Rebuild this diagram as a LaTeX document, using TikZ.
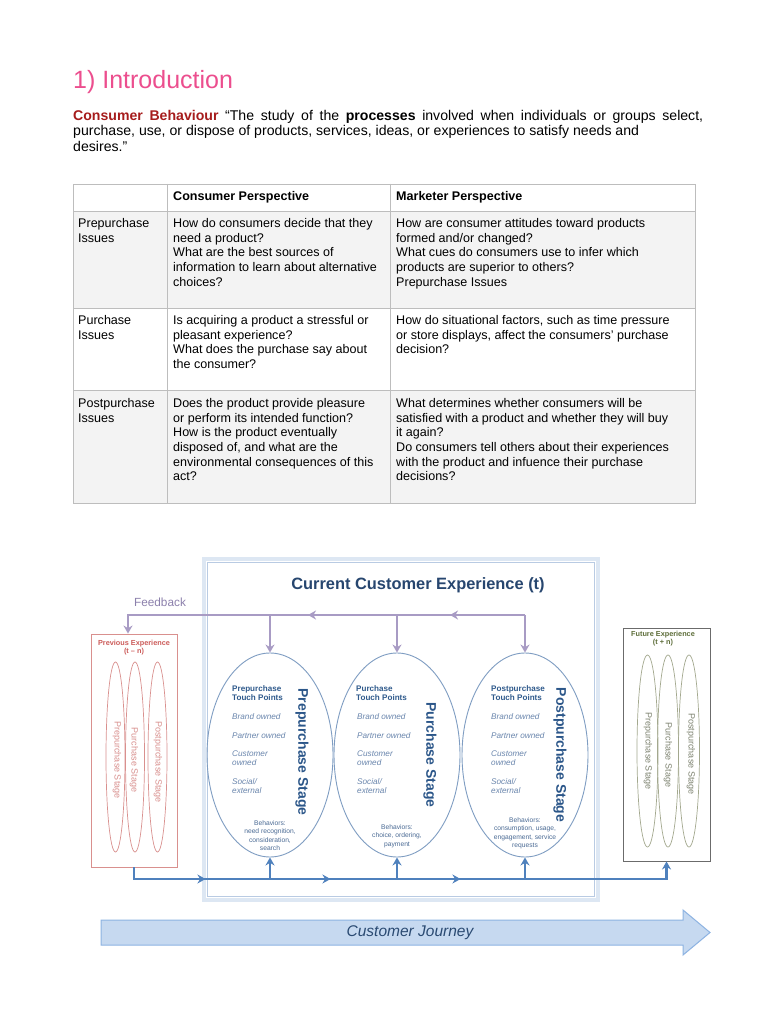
\documentclass[tikz,border=0pt]{standalone}
\usepackage{fontspec}
\setmainfont{Liberation Sans}
\usetikzlibrary{shapes.geometric,arrows.meta,decorations.markings}

\definecolor{titlepink}{HTML}{EC4E8E}
\definecolor{cbred}{HTML}{A61C1C}
\definecolor{tabline}{HTML}{BDBDBD}
\definecolor{tabfill}{HTML}{F3F3F3}
\definecolor{fbpurple}{HTML}{A89BC4}
\definecolor{fbtext}{HTML}{8C80AC}
\definecolor{flowblue}{HTML}{4F81BD}
\definecolor{ellblue}{HTML}{7F9DC2}
\definecolor{cedark}{HTML}{27466F}
\definecolor{stageblue}{HTML}{2B5689}
\definecolor{tpdark}{HTML}{2F5A8C}
\definecolor{tpitem}{HTML}{6A86AD}
\definecolor{behav}{HTML}{4A6A94}
\definecolor{prevred}{HTML}{D9908E}
\definecolor{prevtitle}{HTML}{CC5C5A}
\definecolor{futborder}{HTML}{6B6B6B}
\definecolor{futtitle}{HTML}{5E6E3A}
\definecolor{futell}{HTML}{A3A88E}
\definecolor{futtext}{HTML}{7E8370}
\definecolor{jfill}{HTML}{C6D9F0}
\definecolor{jborder}{HTML}{8DB3E2}
\definecolor{jtext}{HTML}{2A4A72}
\definecolor{boxouter}{HTML}{DDE7F3}
\definecolor{boxinner}{HTML}{B9CBE3}

\newcommand\myfs[2]{\fontsize{#1}{#2}\selectfont}

\tikzset{
  celltext/.style={anchor=north west, inner sep=0pt, align=left, font=\myfs{12.55}{14.6}},
  bigell/.style={ellipse, draw=ellblue, line width=0.9pt, minimum width=126pt, minimum height=204pt, inner sep=0pt},
  stagetext/.style={rotate=-90, font=\bfseries\myfs{14}{16}, text=stageblue, inner sep=0pt},
  tphead/.style={anchor=north west, inner sep=0pt, align=left, font=\bfseries\myfs{8.1}{9}, text=tpdark},
  tpitems/.style={anchor=north west, inner sep=0pt, align=left, font=\itshape\myfs{8.2}{9}, text=tpitem},
  behavtext/.style={anchor=north, inner sep=0pt, align=center, font=\myfs{6.7}{8.3}, text=behav},
  prevell/.style={ellipse, draw=prevred, line width=0.7pt, minimum width=19pt, minimum height=190pt, inner sep=0pt},
  prevtext/.style={rotate=-90, font=\myfs{9}{10}, text=prevred, inner sep=0pt},
  futell/.style={ellipse, draw=futell, line width=0.7pt, minimum width=21pt, minimum height=192pt, inner sep=0pt},
  futtextst/.style={rotate=-90, font=\myfs{9}{10}, text=futtext, inner sep=0pt},
  fbline/.style={color=fbpurple, line width=2.4pt},
  flowline/.style={color=flowblue, line width=2.4pt},
  tipst/.style={-{Stealth[length=8pt,width=9pt]}},
}

\begin{document}
\begin{tikzpicture}[x=1pt,y=-1pt]
\useasboundingbox (0,0) rectangle (768,1024);
\fill[white] (0,0) rectangle (768,1024);

% ---------- heading and definition ----------
\node[anchor=base west, inner sep=0pt, font=\myfs{25}{28}, text=titlepink] (title) at (73,89) {1) Introduction};
\node[anchor=north west, inner sep=0pt, align=left, font=\myfs{14.1}{15.5}] (defn) at (73,110)
  {\hbox to 630pt{{\color{cbred}\bfseries Consumer Behaviour} “The study of the \textbf{processes} involved when individuals or groups select,}\\
   purchase, use, or dispose of products, services, ideas, or experiences to satisfy needs and\\
   desires.”};

% ---------- table ----------
\fill[tabfill] (73,211) rectangle (695,308);
\fill[tabfill] (73,390) rectangle (695,503);
\draw[tabline, line width=0.9pt] (73,184) rectangle (695,503);
\draw[tabline, line width=0.9pt] (73,211) -- (695,211);
\draw[tabline, line width=0.9pt] (73,308) -- (695,308);
\draw[tabline, line width=0.9pt] (73,390) -- (695,390);
\draw[tabline, line width=0.9pt] (167,184) -- (167,503);
\draw[tabline, line width=0.9pt] (390,184) -- (390,503);

\node[celltext, font=\bfseries\myfs{12.55}{14.6}] (h2) at (173,191.5) {Consumer Perspective};
\node[celltext, font=\bfseries\myfs{12.55}{14.6}] (h3) at (396,191.5) {Marketer Perspective};

\node[celltext] (r1a) at (78,218.5) {Prepurchase\\Issues};
\node[celltext] (r1b) at (173,218.5) {How do consumers decide that they\\need a product?\\What are the best sources of\\information to learn about alternative\\choices?};
\node[celltext] (r1c) at (396,218.5) {How are consumer attitudes toward products\\formed and/or changed?\\What cues do consumers use to infer which\\products are superior to others?\\Prepurchase Issues};

\node[celltext] (r2a) at (78,315.5) {Purchase\\Issues};
\node[celltext] (r2b) at (173,315.5) {Is acquiring a product a stressful or\\pleasant experience?\\What does the purchase say about\\the consumer?};
\node[celltext] (r2c) at (396,315.5) {How do situational factors, such as time pressure\\or store displays, affect the consumers’ purchase\\decision?};

\node[celltext] (r3a) at (78,398.5) {Postpurchase\\Issues};
\node[celltext] (r3b) at (173,398.5) {Does the product provide pleasure\\or perform its intended function?\\How is the product eventually\\disposed of, and what are the\\environmental consequences of this\\act?};
\node[celltext] (r3c) at (396,398.5) {What determines whether consumers will be\\satisfied with a product and whether they will buy\\it again?\\Do consumers tell others about their experiences\\with the product and infuence their purchase\\decisions?};

% ---------- current customer experience box ----------
\draw[boxouter, line width=4.5pt] (204,559) rectangle (598,900);
\draw[boxinner, line width=1.1pt] (207.5,562.5) rectangle (594.5,896.5);
\node[font=\bfseries\myfs{16.4}{18}, text=cedark, inner sep=0pt] (cetitle) at (418,585) {Current Customer Experience (t)};

% ---------- stage ellipses ----------
\node[bigell] (pre) at (270,755) {};
\node[bigell] (pur) at (397,755) {};
\node[bigell] (post) at (525,755) {};

\node[stagetext] (preS) at (302,752) {Prepurchase Stage};
\node[stagetext] (purS) at (430,755) {Purchase Stage};
\node[stagetext] (postS) at (560,755) {Postpurchase Stage};

\node[tphead] (preH) at (232,685) {Prepurchase\\Touch Points};
\node[tphead] (purH) at (356,685) {Purchase\\Touch Points};
\node[tphead] (postH) at (491,685) {Postpurchase\\Touch Points};

\node[tpitems] (preI) at (232,713) {Brand owned\\[10pt]Partner owned\\[9pt]Customer\\owned\\[10pt]Social/\\external};
\node[tpitems] (purI) at (357,713) {Brand owned\\[10pt]Partner owned\\[9pt]Customer\\owned\\[10pt]Social/\\external};
\node[tpitems] (postI) at (491,713) {Brand owned\\[10pt]Partner owned\\[9pt]Customer\\owned\\[10pt]Social/\\external};

\node[behavtext] (preB) at (270,820.5) {Behaviors:\\need recognition,\\consideration,\\search};
\node[behavtext] (purB) at (397,824.5) {Behaviors:\\choice, ordering,\\payment};
\node[behavtext] (postB) at (525,817.5) {Behaviors:\\consumption, usage,\\engagement, service\\requests};

% ---------- previous experience ----------
\node[draw=prevred, line width=0.9pt, minimum width=86pt, minimum height=233pt, inner sep=0pt] (prevbox) at (134,750.5) {};
\node[anchor=north, inner sep=0pt, align=center, font=\bfseries\myfs{7.3}{8}, text=prevtitle] (prevT) at (134,640.5) {Previous Experience\\(t – n)};
\node[prevell] (pe1) at (115.5,757) {};
\node[prevell] (pe2) at (135,757) {};
\node[prevell] (pe3) at (157.5,757) {};
\node[prevtext] (pt1) at (117,760) {Prepurchase Stage};
\node[prevtext] (pt2) at (134,760) {Purchase Stage};
\node[prevtext] (pt3) at (158,762) {Postpurchase Stage};

% ---------- future experience ----------
\node[draw=futborder, line width=0.9pt, minimum width=87pt, minimum height=233pt, inner sep=0pt] (futbox) at (666.5,744.5) {};
\node[anchor=north, inner sep=0pt, align=center, font=\bfseries\myfs{7.3}{8}, text=futtitle] (futT) at (663,631.5) {Future Experience\\(t + n)};
\node[futell] (fe1) at (647.5,751) {};
\node[futell] (fe2) at (668,751) {};
\node[futell] (fe3) at (689,751) {};
\node[futtextst] (ft1) at (648,751) {Prepurchase Stage};
\node[futtextst] (ft2) at (668,755) {Purchase Stage};
\node[futtextst] (ft3) at (691,754) {Postpurchase Stage};

% ---------- feedback ----------
\node[font=\myfs{11.8}{13}, text=fbtext, inner sep=0pt] (fbtxt) at (160,602) {Feedback};
\coordinate (fbR) at (525,615);
\coordinate (fbL) at (128,615);
\draw[fbline, tipst, postaction={decorate}, decoration={markings,
    mark=at position 75pt with {\arrow{Stealth[length=8pt,width=9pt]}},
    mark=at position 217pt with {\arrow{Stealth[length=8pt,width=9pt]}}}]
  (fbR) -- (fbL) -- (fbL |- prevbox.north);
\draw[fbline, tipst] (fbR) -- (post.north);
\draw[fbline, tipst] (pre.north |- fbL) -- (pre.north);
\draw[fbline, tipst] (pur.north |- fbL) -- (pur.north);

% ---------- journey flow ----------
\coordinate (flowL) at (134,879);
\coordinate (flowR) at (666.5,879);
\draw[flowline, tipst, postaction={decorate}, decoration={markings,
    mark=at position 83pt with {\arrow{Stealth[length=8pt,width=9pt]}},
    mark=at position 208pt with {\arrow{Stealth[length=8pt,width=9pt]}},
    mark=at position 338pt with {\arrow{Stealth[length=8pt,width=9pt]}}}]
  (prevbox.south) -- (flowL) -- (flowR) -- (futbox.south);
\draw[flowline, tipst] (pre.south |- flowL) -- (pre.south);
\draw[flowline, tipst] (pur.south |- flowL) -- (pur.south);
\draw[flowline, tipst] (post.south |- flowL) -- (post.south);

% ---------- customer journey arrow ----------
\draw[fill=jfill, draw=jborder, line width=1pt]
  (101,920) -- (683,920) -- (683,910) -- (710,932.5) -- (683,955) -- (683,945) -- (101,945) -- cycle;
\node[font=\itshape\myfs{15.5}{17}, text=jtext, inner sep=0pt] (journey) at (410,933) {Customer Journey};

\end{tikzpicture}
\end{document}
